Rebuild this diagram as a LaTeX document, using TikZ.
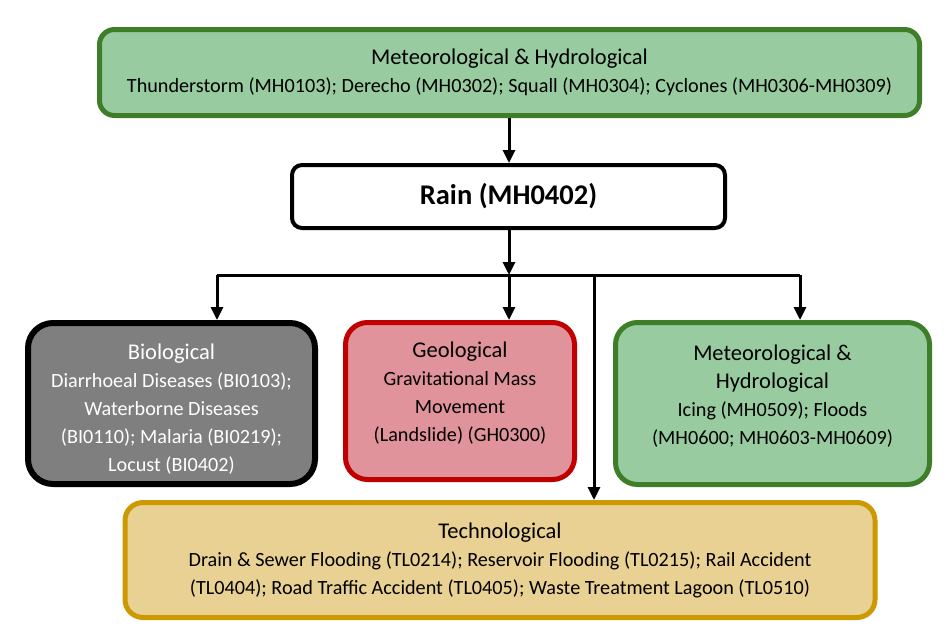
\documentclass[tikz,border=0pt]{standalone}
\usepackage{fontspec}
\setmainfont{Carlito}
\usetikzlibrary{arrows.meta}

\definecolor{metfill}{HTML}{98CCA0}
\definecolor{metline}{HTML}{3E7E28}
\definecolor{geofill}{HTML}{E0939A}
\definecolor{geoline}{HTML}{C00000}
\definecolor{biofill}{HTML}{7F7F7F}
\definecolor{techfill}{HTML}{E9D194}
\definecolor{techline}{HTML}{CC9900}

\newcommand{\hd}{\fontsize{22.5}{28}\selectfont}
\newcommand{\lift}{\rule[-18pt]{0pt}{18pt}}
\newcommand{\drop}{\rule{0pt}{26pt}}

\begin{document}
\begin{tikzpicture}[x=1pt, y=-1pt,
    every node/.style={font=\fontsize{20.2}{28}\selectfont, align=center, inner sep=0pt},
    box/.style={draw, rectangle, rounded corners=#1},
    link/.style={line width=3pt, -{Triangle[length=13pt, width=12pt]}}]
    \useasboundingbox (0,0) rectangle (949,643);

    \node[box=15pt, fill=metfill, draw=metline, line width=5pt,
          minimum width=820pt, minimum height=86pt] (met1) at (509.5,72.5)
          {{\hd Meteorological \& Hydrological}\\
           Thunderstorm (MH0103); Derecho (MH0302); Squall (MH0304); Cyclones (MH0306-MH0309)};

    \node[box=10pt, fill=white, line width=4pt, font=\fontsize{28.5}{34}\selectfont\bfseries,
          minimum width=433pt, minimum height=63pt] (rain) at (508.5,196.5) {Rain (MH0402)};

    \node[box=25pt, fill=biofill, line width=6pt, text=white,
          minimum width=287pt, minimum height=161pt] (bio) at (171.5,403.5)
          {\drop{\hd Biological}\\ Diarrhoeal Diseases (BI0103);\\ Waterborne Diseases\\
           (BI0110); Malaria (BI0219);\\ Locust (BI0402)};

    \node[box=22pt, fill=geofill, draw=geoline, line width=5pt,
          minimum width=229pt, minimum height=157pt] (geo) at (460,401)
          {{\hd Geological}\\ Gravitational Mass\\ Movement\\ (Landslide) (GH0300)\lift};

    \node[box=22pt, fill=metfill, draw=metline, line width=5pt,
          minimum width=314pt, minimum height=162pt] (met2) at (772.5,403.5)
          {{\hd Meteorological \&}\\ {\hd Hydrological}\\ Icing (MH0509); Floods\\
           (MH0600; MH0603-MH0609)\lift};

    \node[box=18pt, fill=techfill, draw=techline, line width=5pt,
          minimum width=750pt, minimum height=115pt] (tech) at (500,560)
          {{\hd Technological}\\
           Drain \& Sewer Flooding (TL0214); Reservoir Flooding (TL0215); Rail Accident\\
           (TL0404); Road Traffic Accident (TL0405); Waste Treatment Lagoon (TL0510)};

    % branch points
    \coordinate (split) at (509,275);
    \coordinate (left) at (217,275);
    \coordinate (right) at (800,275);
    \coordinate (down) at (594,275);

    \draw[link] (met1.south -| split) -- (rain.north -| split);
    \draw[link] (rain.south -| split) -- (split);
    \draw[line width=3pt] (left) -- (right);
    \draw[link] (left) -- (left |- bio.north);
    \draw[link] (split) -- (split |- geo.north);
    \draw[link] (right) -- (right |- met2.north);
    \draw[link] (down) -- (down |- tech.north);
\end{tikzpicture}
\end{document}
